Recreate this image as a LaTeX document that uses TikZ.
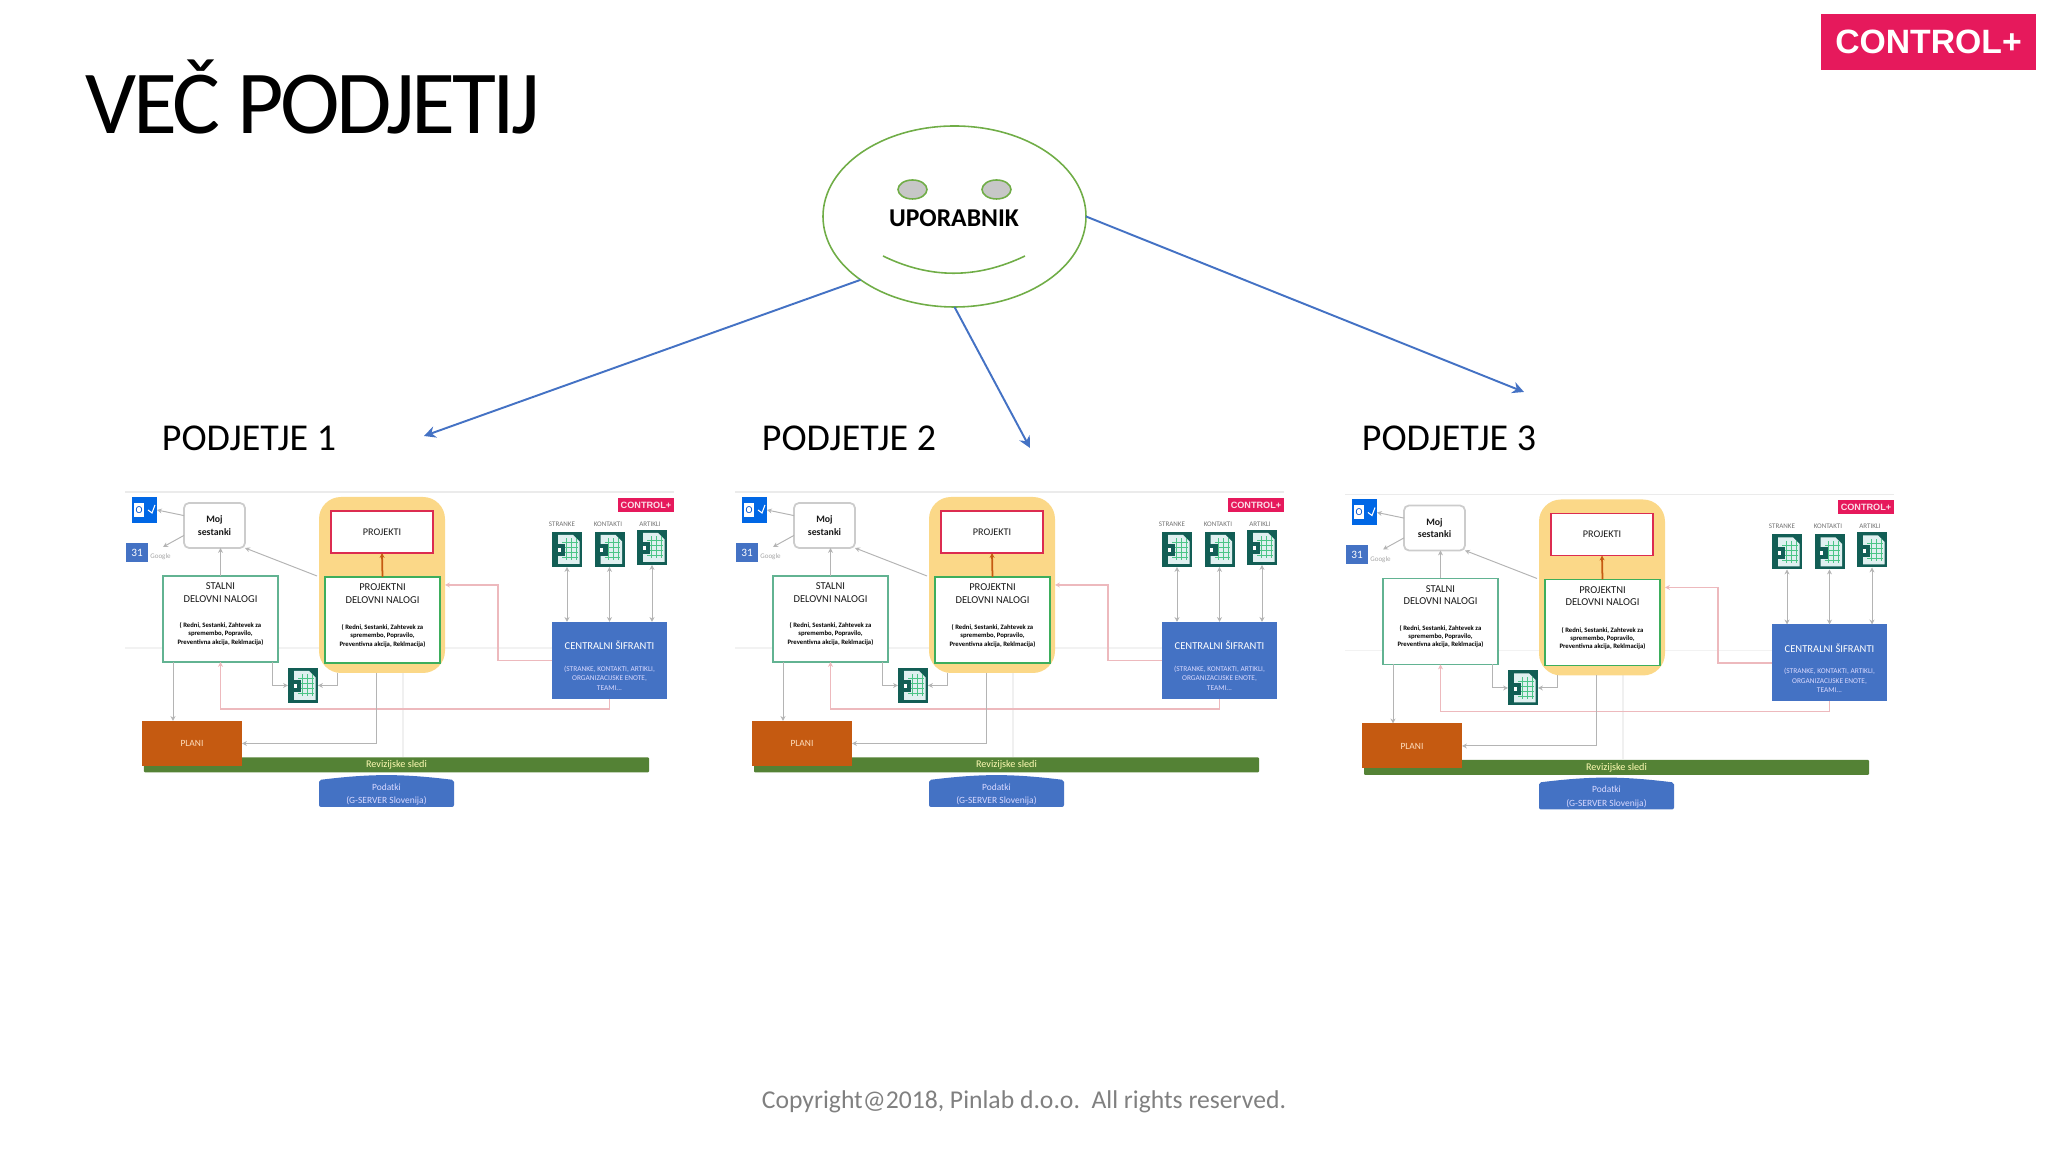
\documentclass[tikz,border=0pt]{standalone}
\usepackage{fontspec}
\setmainfont{Carlito}
\newfontfamily\badgefont{Liberation Sans}[Scale=1]
\newfontfamily\titlefont{Carlito}[LetterSpace=-4]
\usetikzlibrary{shapes.geometric,arrows.meta}
\definecolor{usergreen}{HTML}{70AD47}
\definecolor{arrowblue}{HTML}{4472C4}
\definecolor{pinkbadge}{HTML}{E6195C}
\definecolor{boxyellow}{HTML}{FBD888}
\definecolor{boxteal}{HTML}{62B392}
\definecolor{boxgreen}{HTML}{3DAE5C}
\definecolor{boxred}{HTML}{DC2C50}
\definecolor{planorange}{HTML}{C55A11}
\definecolor{bargreen}{HTML}{548235}
\definecolor{xlsteal}{HTML}{125E55}
\definecolor{connred}{HTML}{EDB9BD}
\definecolor{conngray}{HTML}{B4B4B4}
\newcommand{\fs}[1]{\fontsize{#1}{#1}\selectfont}
\newcommand{\fh}{\fontsize{3}{3.6}\selectfont}
\tikzset{
  every node/.style={inner sep=0pt,outer sep=0pt},
  tiny tip/.tip={Stealth[length=1.4pt,width=1.4pt]},
  big tip/.tip={Stealth[length=3.3pt,width=3.3pt]},
  box/.style={draw,line width=0.5pt,fill=white,minimum width=#1},
  conn/.style={draw=conngray,line width=0.28pt},
  redconn/.style={draw=connred,line width=0.3pt},
  thumbtext/.style={align=center,text=black!90},
  useredge/.style={draw=usergreen,line width=0.45pt},
  link/.style={arrowblue,line width=0.55pt,-{big tip}},
  xls/.style={fill=xlsteal,minimum width=0.30cm,minimum height=0.35cm,path picture={
    \begin{scope}[shift={(path picture bounding box.center)}]
    \fill[white!88!teal] (-0.09,0.145) -- (0.06,0.145) -- (0.125,0.08) -- (0.125,-0.145) -- (-0.09,-0.145) -- cycle;
    \foreach \yy in {0.07,0.02,-0.03,-0.08}
      \draw[green!35!teal!70,line width=0.25pt] (-0.05,\yy) -- (0.105,\yy);
    \foreach \xx in {-0.01,0.04,0.09}
      \draw[green!35!teal!70,line width=0.25pt] (\xx,0.11) -- (\xx,-0.11);
    \fill[xlsteal] (-0.14,0.05) rectangle (-0.02,-0.07);
    \fill[white] (-0.095,0.01) rectangle (-0.065,-0.03);
    \end{scope}}},
  pics/thumb/.style={code={
    %Faint lines
    \draw[black!8,line width=0.4pt] (0,0) -- (5.49,0);
    \draw[black!5,line width=0.3pt] (0,-1.56) -- (4.27,-1.56);
    \draw[black!6,line width=0.3pt] (2.78,-1.81) -- (2.78,-2.65);
    %Icons top left
    \node[fill=blue!55!cyan!90!black,minimum width=0.25cm,minimum height=0.26cm] (outlook) at (0.195,-0.18) {};
    \node[fill=white,text=blue!60!cyan!80!black,minimum width=0.10cm,minimum height=0.14cm,font=\fs{3}] (outlooko) at (0.14,-0.18) {O};
    \draw[white,line width=0.3pt] (0.23,-0.18) -- (0.27,-0.21) -- (0.30,-0.13);
    \node[fill=arrowblue,minimum width=0.22cm,minimum height=0.19cm,text=white,font=\fs{3.2}] (gcal) at (0.12,-0.605) {31};
    \node[text=black!35,font=\fs{2}] (gtext) at (0.355,-0.65) {Google};
    %Projects panel
    \node[fill=boxyellow,rounded corners=0.22cm,minimum width=1.26cm,minimum height=1.76cm] (panel) at (2.57,-0.93) {};
    \node[box=1.02cm,draw=boxred,minimum height=0.42cm,thumbtext,font=\fs{2.9}] (projekti) at (2.57,-0.40) {PROJEKTI};
    \node[box=1.15cm,draw=boxgreen,minimum height=0.86cm] (projektni) at (2.575,-1.28) {};
    \node[thumbtext,font=\fh] (projektnihead) at (2.575,-1.015) {PROJEKTNI\\DELOVNI NALOGI};
    \node[thumbtext,text=black,font=\bfseries\fs{1.9}] (projektnisub) at (2.575,-1.44) {( Redni, Sestanki, Zahtevek za\\[0.45pt]spremembo, Popravilo,\\[0.45pt]Preventivna akcija, Reklmacija)};
    %Left column
    \node[box=0.61cm,draw=black!20,rounded corners=0.05cm,minimum height=0.45cm,thumbtext,font=\bfseries\fs{2.8}] (moj) at (0.895,-0.335) {Moj\\[0.8pt]sestanki};
    \node[box=1.15cm,draw=boxteal,minimum height=0.86cm] (stalni) at (0.955,-1.27) {};
    \node[thumbtext,font=\fh] (stalnihead) at (0.955,-1.005) {STALNI\\DELOVNI NALOGI};
    \node[thumbtext,text=black,font=\bfseries\fs{1.9}] (stalnisub) at (0.955,-1.42) {( Redni, Sestanki, Zahtevek za\\[0.45pt]spremembo, Popravilo,\\[0.45pt]Preventivna akcija, Reklmacija)};
    %Code lists
    \node[fill=pinkbadge,minimum width=0.56cm,minimum height=0.14cm,text=white!85!pinkbadge,font=\badgefont\bfseries\fs{2.6}] (minibadge) at (5.21,-0.13) {CONTROL+};
    \node[text=black!55,font=\fs{2}] (stranke) at (4.37,-0.32) {STRANKE};
    \node[text=black!55,font=\fs{2}] (kontakti) at (4.83,-0.32) {KONTAKTI};
    \node[text=black!55,font=\fs{2}] (artikli) at (5.25,-0.32) {ARTIKLI};
    \node[xls] (xlsa) at (4.42,-0.575) {};
    \node[xls] (xlsb) at (4.845,-0.575) {};
    \node[xls] (xlsc) at (5.27,-0.555) {};
    \node[xls] (xlsd) at (1.78,-1.935) {};
    \node[fill=arrowblue,minimum width=1.15cm,minimum height=0.77cm] (sifranti) at (4.845,-1.685) {};
    \node[align=center,text=white,font=\fs{3.0}] (sifrantihead) at (4.845,-1.535) {CENTRALNI ŠIFRANTI};
    \node[align=center,text=white!85!blue,font=\fs{2.1}] (sifrantisub) at (4.845,-1.86) {(STRANKE, KONTAKTI, ARTIKLI,\\[0.6pt]ORGANIZACIJSKE ENOTE,\\[0.6pt]TEAMI...};
    %Bottom row
    \node[fill=bargreen,rounded corners=0.01cm,minimum width=5.05cm,minimum height=0.15cm,text=yellow!30!white,font=\fs{2.9}] (sledi) at (2.715,-2.73) {Revizijske sledi};
    \node[fill=planorange,minimum width=1.0cm,minimum height=0.45cm,text=orange!25!white,font=\fs{2.7}] (plani) at (0.67,-2.515) {PLANI};
    \fill[arrowblue,rounded corners=0.02cm] (1.94,-2.88) to[bend left=7] (3.29,-2.88) -- (3.29,-3.15) -- (1.94,-3.15) -- cycle;
    \node[align=center,text=blue!15!white,font=\fs{2.7}] (podatki) at (2.615,-3.025) {Podatki\\[1.2pt](G-SERVER Slovenija)};
    %Connectors
    \coordinate (gfree) at (0.38,-0.55);
    \coordinate (panelnw) at (1.92,-0.84);
    \coordinate (stalnileft) at (0.48,-1.70);
    \coordinate (stalniright) at (1.47,-1.70);
    \coordinate (panelleft) at (2.12,-1.81);
    \coordinate (panelmid) at (2.51,-1.81);
    \draw[conn,-{tiny tip}] (moj.162) -- (outlook.east);
    \draw[conn,-{tiny tip}] (moj.198) -- (gfree);
    \draw[conn,-{tiny tip}] (stalni.north) -- (stalni.north |- moj.south);
    \draw[conn,-{tiny tip}] (panelnw) -- (moj.south east);
    \draw[draw=planorange,line width=0.5pt,-{tiny tip}] (projektni.north) -- (projekti.south);
    \foreach \cell in {xlsa,xlsb,xlsc}
      \draw[conn,{tiny tip}-{tiny tip}] (\cell.south) -- (\cell |- sifranti.north);
    \draw[redconn,-{tiny tip}] (sifranti.west) -- ++(-0.54,0) |- (panel.east);
    \draw[redconn,-{tiny tip}] (sifranti.south) -- ++(0,-0.10) -| (stalni.south);
    \draw[conn,-{tiny tip}] (stalnileft) -- (stalnileft |- plani.north);
    \draw[conn,-{tiny tip}] (panelmid) |- (plani.east);
    \draw[conn,-{tiny tip}] (stalniright) |- (xlsd.west);
    \draw[conn,{tiny tip}-] (xlsd.east) -| (panelleft);
  }}
}
\begin{document}
\begin{tikzpicture}
\useasboundingbox (0,0) rectangle (20.48,11.52);
%Title and badge
\node[anchor=base,font=\titlefont\fs{25.6}] (title) at (3.13,10.18) {VEČ PODJETIJ};
\node[fill=pinkbadge,minimum width=2.15cm,minimum height=0.56cm,text=white,font=\badgefont\bfseries\fs{9.6}] (badge) at (19.285,11.10) {CONTROL+};
%Smiling user
\node[useredge,ellipse,minimum width=2.63cm,minimum height=1.81cm] (user) at (9.545,9.355) {};
\node[useredge,fill=black!22,ellipse,minimum width=0.29cm,minimum height=0.19cm] (eyeleft) at (9.125,9.625) {};
\node[useredge,fill=black!22,ellipse,minimum width=0.29cm,minimum height=0.19cm] (eyeright) at (9.965,9.625) {};
\node[font=\bfseries\fs{7.3}] (username) at (9.54,9.34) {UPORABNIK};
\draw[useredge] (8.83,8.96) .. controls (9.3,8.73) and (9.77,8.73) .. (10.25,8.96);
%Company labels
\node[font=\fs{10.8}] (labelone) at (2.49,7.135) {PODJETJE 1};
\node[font=\fs{10.8}] (labeltwo) at (8.49,7.135) {PODJETJE 2};
\node[font=\fs{10.8}] (labelthree) at (14.49,7.135) {PODJETJE 3};
%Arrows from user
\coordinate (endone) at (4.24,7.16);
\coordinate (endtwo) at (10.30,7.04);
\coordinate (endthree) at (15.24,7.60);
\draw[link] (user.214) -- (endone);
\draw[link] (user.south) -- (endtwo);
\draw[link] (user.east) -- (endthree);
%Screenshots
\pic (one-) at (1.25,6.60) {thumb};
\pic (two-) at (7.35,6.60) {thumb};
\pic (three-) at (13.45,6.575) {thumb};
%Footer
\node[text=black!50,font=\fs{7.3}] (copyright) at (10.24,0.50) {Copyright@2018, Pinlab d.o.o.\ \ All rights reserved.};
\end{tikzpicture}
\end{document}
